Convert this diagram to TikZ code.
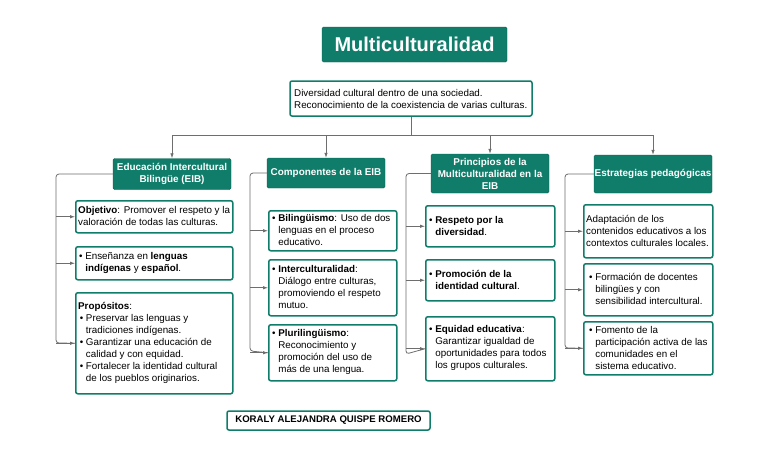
\documentclass[tikz,border=0pt]{standalone}
\usepackage{fontspec}
\setmainfont{Liberation Sans}
\usetikzlibrary{arrows.meta}
\definecolor{teal1}{HTML}{0F7D6A}
\definecolor{lg}{HTML}{6E6E6E}
\begin{document}
\begin{tikzpicture}[x=1pt,y=-1pt,
 hd/.style={fill=teal1,draw=teal1!80!black,rounded corners=1.5pt,text=white,font=\fontsize{9.9}{12}\selectfont\bfseries,align=center,inner sep=0pt},
 bx/.style={draw=teal1,line width=1.5pt,rounded corners=2pt,fill=white,inner sep=0pt},
 tx/.style={font=\fontsize{9.8}{12}\selectfont,align=left,inner sep=0pt},
 ln/.style={draw=lg,line width=0.8pt},
 ar/.style={ln,-{Latex[length=5pt,width=3.5pt]}}]
\useasboundingbox (0,0) rectangle (768,464);
\fill[white] (0,0) rectangle (768,464);
\node[hd,minimum width=185,minimum height=35,font=\fontsize{20}{22}\selectfont\bfseries] (t) at (414.5,44.5) {Multiculturalidad};
\node[bx,minimum width=242,minimum height=35] (d) at (411,98.5) {};
\node[tx,anchor=west] at (294,98.5) {Diversidad cultural dentro de una sociedad.\\Reconocimiento de la coexistencia de varias culturas.};
\node[hd,minimum width=118,minimum height=31] (h1) at (172,174) {Educación Intercultural\\Bilingüe (EIB)};
\node[hd,minimum width=118,minimum height=30] (h2) at (326,173) {Componentes de la EIB};
\node[hd,minimum width=118,minimum height=39] (h3) at (490,173.5) {Principios de la\\Multiculturalidad en la\\EIB};
\node[hd,minimum width=118,minimum height=38] (h4) at (653,174) {Estrategias pedagógicas};
\coordinate (j) at (411,135);
\draw[ln] (d.south) -- (j);
\draw[ln] (h1.north |- j) -- (h4.north |- j);
\foreach \h in {h1,h2,h3,h4} \draw[ar] (\h.north |- j) -- (\h.north);
\newcommand{\ch}[7]{\node[bx,minimum width=#3-#2,minimum height=#5-#4,anchor=north west] (#1) at (#2,#4) {};
 \node[tx,anchor=west] at (#6,{(#4+#5)/2}) {#7};}
\ch{a1}{75}{232}{200}{232}{78}{\textbf{Objetivo}: Promover el respeto y la\\valoración de todas las culturas.}
\ch{a2}{75}{232}{246}{279}{79}{• Enseñanza en \textbf{lenguas}\\\phantom{• }\textbf{indígenas} y \textbf{español}.}
\ch{a3}{75}{232}{292}{393}{78}{\textbf{Propósitos}:\\\phantom{\,}• Preservar las lenguas y\\\phantom{\,• }tradiciones indígenas.\\\phantom{\,}• Garantizar una educación de\\\phantom{\,• }calidad y con equidad.\\\phantom{\,}• Fortalecer la identidad cultural\\\phantom{\,• }de los pueblos originarios.}
\ch{b1}{268}{396}{210}{250}{272}{• \textbf{Bilingüismo}: Uso de dos\\\phantom{• }lenguas en el proceso\\\phantom{• }educativo.}
\ch{b2}{268}{396}{259}{315}{272}{• \textbf{Interculturalidad}:\\\phantom{• }Diálogo entre culturas,\\\phantom{• }promoviendo el respeto\\\phantom{• }mutuo.}
\ch{b3}{268}{396}{324}{380}{272}{• \textbf{Plurilingüismo}:\\\phantom{• }Reconocimiento y\\\phantom{• }promoción del uso de\\\phantom{• }más de una lengua.}
\ch{c1}{425}{554}{205}{246}{429}{• \textbf{Respeto por la}\\\phantom{• }\textbf{diversidad}.}
\ch{c2}{425}{554}{259}{300}{429}{• \textbf{Promoción de la}\\\phantom{• }\textbf{identidad cultural}.}
\ch{c3}{425}{554}{316}{380}{429}{• \textbf{Equidad educativa}:\\\phantom{• }Garantizar igualdad de\\\phantom{• }oportunidades para todos\\\phantom{• }los grupos culturales.}
\ch{e1}{583}{712}{204}{257}{586}{Adaptación de los\\contenidos educativos a los\\contextos culturales locales.}
\ch{e2}{583}{712}{263}{315}{589}{• Formación de docentes\\\phantom{• }bilingües y con\\\phantom{• }sensibilidad intercultural.}
\ch{e3}{583}{712}{321}{374}{589}{• Fomento de la\\\phantom{• }participación activa de las\\\phantom{• }comunidades en el\\\phantom{• }sistema educativo.}
\draw[ln,rounded corners=3pt] (h1.west) -| (56,343) -- (a3.west);
\foreach \c in {a1,a2,a3} \draw[ar] (56,0 |- \c.west) -- (\c.west);
\draw[ln,rounded corners=3pt] (h2.west) -| (250,351) -- (b3.west);
\foreach \c in {b1,b2,b3} \draw[ar] (250,0 |- \c.west) -- (\c.west);
\draw[ln,rounded corners=3pt] (h3.west) -| (406,354) -- (c3.west);
\foreach \c in {c1,c2,c3} \draw[ar] (406,0 |- \c.west) -- (\c.west);
\draw[ln,rounded corners=3pt] (h4.west) -| (565,348) -- (e3.west);
\foreach \c in {e1,e2,e3} \draw[ar] (565,0 |- \c.west) -- (\c.west);
\node[bx,minimum width=203,minimum height=19,font=\fontsize{9.6}{11}\selectfont\bfseries] (au) at (328.5,420.5) {KORALY ALEJANDRA QUISPE ROMERO};
\end{tikzpicture}
\end{document}
